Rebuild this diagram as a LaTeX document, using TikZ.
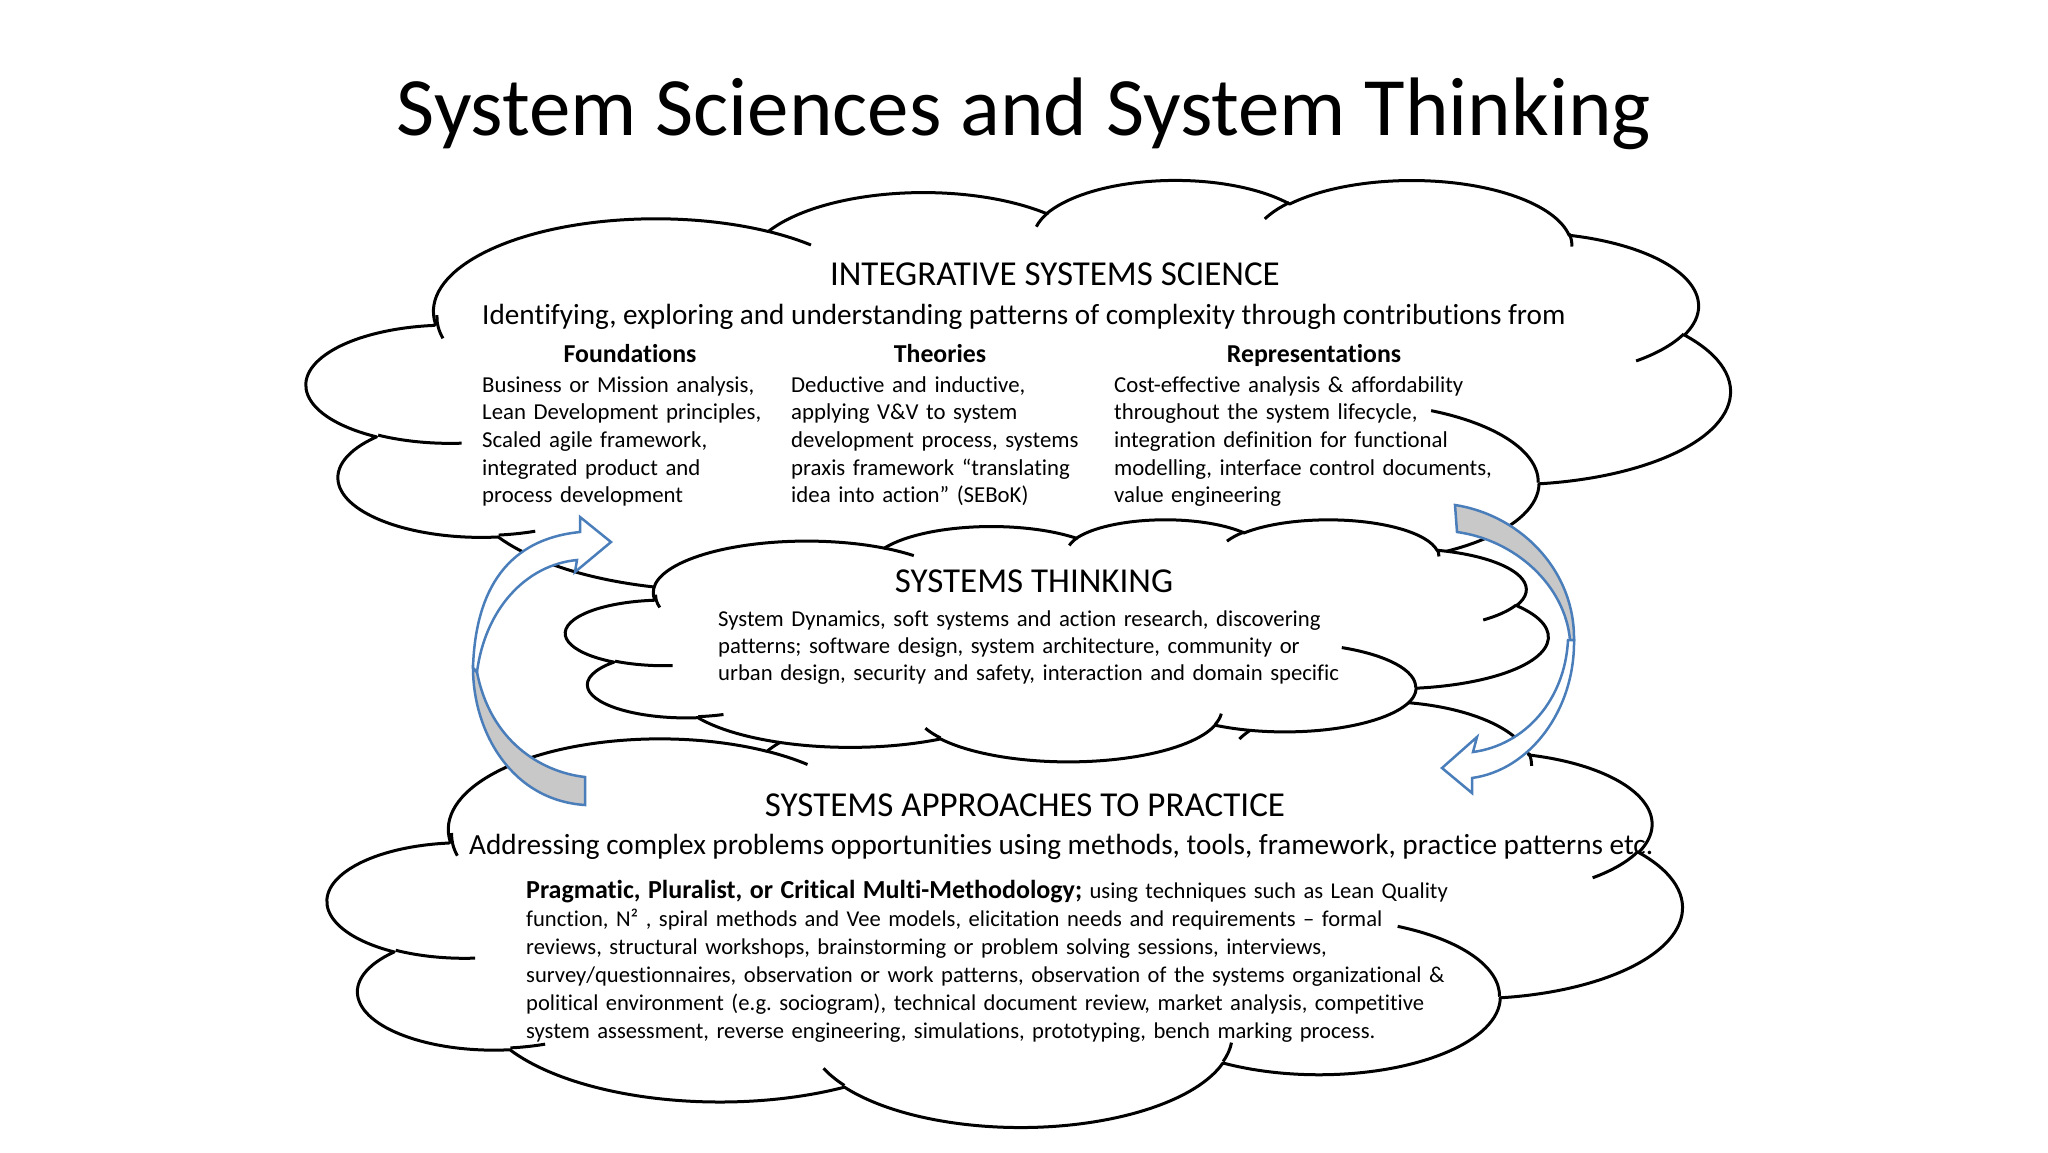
\documentclass[tikz,border=0pt]{standalone}
\usepackage{fontspec}
\setmainfont{Carlito}[Ligatures=NoCommon]
\definecolor{arrowblue}{RGB}{74,126,187}
\definecolor{arrowgray}{RGB}{200,200,200}
\newcommand\ooang[5]{%
  \pgfmathsetmacro\ooa{atan2((#2)*sin(#4),(#3)*cos(#4))}%
  \pgfmathsetmacro\oob{atan2((#2)*sin((#4)+(#5)),(#3)*cos((#4)+(#5)))}%
  \pgfmathsetmacro\ood{mod(\oob-(\ooa)+720,360)}%
  \expandafter\let\csname oo#1s\endcsname\ooa
  \expandafter\let\csname oo#1d\endcsname\ood}
\ooang{A}{675.3}{919.0}{-190.4875}{123.7805}
\ooang{B}{533.3}{726.7}{-144.1024}{89.9452}
\ooang{C}{436.5}{594.5}{-145.8079}{99.7230}
\ooang{D}{485.7}{659.5}{-130.9861}{117.2417}
\ooang{E}{533.3}{727.3}{-78.7089}{109.0269}
\ooang{F}{677.5}{922.0}{-46.2673}{130.2690}
\ooang{G}{578.5}{786.7}{0.6250}{114.0333}
\ooang{H}{675.2}{921.5}{22.4516}{115.1726}
\ooang{I}{772.0}{1054.3}{66.2426}{75.7110}
\ooang{J}{436.0}{591.8}{-274.9421}{146.7356}
\ooang{K}{434.5}{594.5}{-246.8285}{152.5189}
\ooang{a}{434.5}{594.5}{86.7420}{26.4295}
\ooang{b}{436.0}{591.8}{73.6105}{11.4475}
\ooang{c}{675.2}{921.5}{137.6242}{14.0811}
\ooang{d}{675.2}{921.5}{6.4533}{15.9984}
\ooang{e}{578.5}{786.7}{-70.2924}{70.9174}
\ooang{f}{533.3}{727.3}{30.3180}{27.7515}
\ooang{g}{485.7}{659.5}{-13.7443}{14.8589}
\ooang{h}{485.7}{659.5}{-149.1815}{18.1954}
\ooang{i}{436.5}{594.5}{-163.4943}{17.6864}
\ooang{j}{675.3}{919.0}{-66.7070}{12.3194}
\ooang{k}{675.3}{919.0}{162.0371}{19.4305}
\newcommand\officecloud[5]{%
  \pgfmathsetmacro\cxs{(#3)/4320}%
  \pgfmathsetmacro\cys{(#4)/4320}%
  \begin{scope}[shift={(#1,#2)},x=\cxs pt,y=-\cys pt]
    \filldraw[cloudline,fill=#5] (390,1437)
      arc[start angle=\ooAs,delta angle=\ooAd,x radius=675.3,y radius=919.0]
      arc[start angle=\ooBs,delta angle=\ooBd,x radius=533.3,y radius=726.7]
      arc[start angle=\ooCs,delta angle=\ooCd,x radius=436.5,y radius=594.5]
      arc[start angle=\ooDs,delta angle=\ooDd,x radius=485.7,y radius=659.5]
      arc[start angle=\ooEs,delta angle=\ooEd,x radius=533.3,y radius=727.3]
      arc[start angle=\ooFs,delta angle=\ooFd,x radius=677.5,y radius=922.0]
      arc[start angle=\ooGs,delta angle=\ooGd,x radius=578.5,y radius=786.7]
      arc[start angle=\ooHs,delta angle=\ooHd,x radius=675.2,y radius=921.5]
      arc[start angle=\ooIs,delta angle=\ooId,x radius=772.0,y radius=1054.3]
      arc[start angle=\ooJs,delta angle=\ooJd,x radius=436.0,y radius=591.8]
      arc[start angle=\ooKs,delta angle=\ooKd,x radius=434.5,y radius=594.5]
      -- cycle;
    \draw[cloudline]
      (469.3,2617.7) arc[start angle=\ooas,delta angle=\ooad,x radius=434.5,y radius=594.5]
      (692.8,3489.9) arc[start angle=\oobs,delta angle=\oobd,x radius=436.0,y radius=591.8]
      (1647.8,3909.0) arc[start angle=\oocs,delta angle=\oocd,x radius=675.2,y radius=921.5]
      (2882.7,3475.1) arc[start angle=\oods,delta angle=\oodd,x radius=675.2,y radius=921.5]
      (3412.9,2295.4) arc[start angle=\ooes,delta angle=\ooed,x radius=578.5,y radius=786.7]
      (4179.8,1535.4) arc[start angle=\oofs,delta angle=\oofd,x radius=533.3,y radius=727.3]
      (3832.4,542.6) arc[start angle=\oogs,delta angle=\oogd,x radius=485.7,y radius=659.5]
      (2907.8,395.2) arc[start angle=\oohs,delta angle=\oohd,x radius=485.7,y radius=659.5]
      (2214.1,472.0) arc[start angle=\oois,delta angle=\ooid,x radius=436.5,y radius=594.5]
      (1400.0,519.2) arc[start angle=\oojs,delta angle=\oojd,x radius=675.3,y radius=919.0]
      (412.7,1578.9) arc[start angle=\ooks,delta angle=\ookd,x radius=675.3,y radius=919.0];
  \end{scope}}
\begin{document}
\frenchspacing
\begin{tikzpicture}[x=1pt,y=-1pt,
  cloudline/.style={line width=3pt,draw=black,line join=round},
  arrowline/.style={draw=arrowblue,line width=2.5pt,line join=miter},
  titletext/.style={font=\fontsize{83}{90}\selectfont,anchor=base,inner sep=0},
  headtext/.style={font=\fontsize{35}{40}\selectfont,anchor=base,inner sep=0},
  subtext/.style={font=\fontsize{29.2}{34}\selectfont,anchor=base west,inner sep=0},
  colhead/.style={font=\bfseries\fontsize{25.8}{30}\selectfont,anchor=base,inner sep=0},
  bodytext/.style={font=\fontsize{22.8}{27.7}\selectfont,anchor=base west,inner sep=0,align=left,text width=#1},
  bodytext/.default=600pt]
\useasboundingbox (0,0) rectangle (2048,1152);
\fill[white] (0,0) rectangle (2048,1152);

\node[titletext] (title) at (1024,135) {System Sciences and System Thinking};

% clouds
\officecloud{307}{179}{1423}{436}{white}
\officecloud{328}{700}{1354}{426}{white}
\officecloud{566}{519}{982}{242}{white}

% top cloud text
\node[headtext] (ish) at (1055,285) {INTEGRATIVE SYSTEMS SCIENCE};
\node[subtext] (ishsub) at (482,324) {Identifying, exploring and understanding patterns of complexity through contributions from};
\node[colhead] (fh) at (630,362) {Foundations};
\node[colhead] (th) at (940,362) {Theories};
\node[colhead] (rh) at (1314,362) {Representations};
\node[bodytext=300pt] (fb) at (482,392) {Business or Mission analysis,\\Lean Development principles,\\Scaled agile framework,\\integrated product and\\process development};
\node[bodytext=320pt] (tb) at (791,392) {Deductive and inductive,\\applying V\&V to system\\development process, systems\\praxis framework “translating\\idea into action” (SEBoK)};
\node[bodytext=420pt] (rb) at (1114,392) {Cost-effective analysis \& affordability\\throughout the system lifecycle,\\integration definition for functional\\modelling, interface control documents,\\value engineering};

% middle cloud text
\node[headtext] (sth) at (1034,592) {SYSTEMS THINKING};
\node[bodytext=700pt,font=\fontsize{22.7}{27.2}\selectfont] (stb) at (718,626) {System Dynamics, soft systems and action research, discovering\\patterns; software design, system architecture, community or\\urban design, security and safety, interaction and domain specific};

% bottom cloud text
\node[headtext] (sap) at (1025,816) {SYSTEMS APPROACHES TO PRACTICE};
\node[subtext] (sapsub) at (469,854) {Addressing complex problems opportunities using methods, tools, framework, practice patterns etc.};
\node[bodytext=1000pt,font=\fontsize{22.6}{28}\selectfont] (sapb) at (526,898.5) {{\bfseries\fontsize{26}{28}\selectfont Pragmatic, Pluralist, or Critical Multi-Methodology;} using techniques such as Lean Quality\\function, N² , spiral methods and Vee models, elicitation needs and requirements – formal\\reviews, structural workshops, brainstorming or problem solving sessions, interviews,\\survey/questionnaires, observation or work patterns, observation of the systems organizational \&\\political environment (e.g. sociogram), technical document review, market analysis, competitive\\system assessment, reverse engineering, simulations, prototyping, bench marking process.};

% left curved arrow
\filldraw[arrowline,fill=arrowgray] (473,668) .. controls (473,730) and (510,800) .. (585,805)
  -- (585,777) .. controls (540,772) and (490,740) .. (477,672) -- cycle;
\filldraw[arrowline,fill=white] (473,668) .. controls (475,600) and (500,540) .. (580,532)
  -- (580,517) -- (611,542) -- (575,572) -- (577,560)
  .. controls (525,565) and (485,610) .. (477,672) -- cycle;

% right curved arrow
\filldraw[arrowline,fill=arrowgray] (1455,505) .. controls (1520,515) and (1575,570) .. (1574,640)
  -- (1570,640) .. controls (1565,585) and (1515,540) .. (1457,532) -- cycle;
\filldraw[arrowline,fill=white] (1574,640) .. controls (1575,710) and (1530,770) .. (1472,778)
  -- (1472,793) -- (1442,768) -- (1477,737) -- (1473,752)
  .. controls (1525,745) and (1565,700) .. (1568,640) -- cycle;
\end{tikzpicture}
\end{document}
